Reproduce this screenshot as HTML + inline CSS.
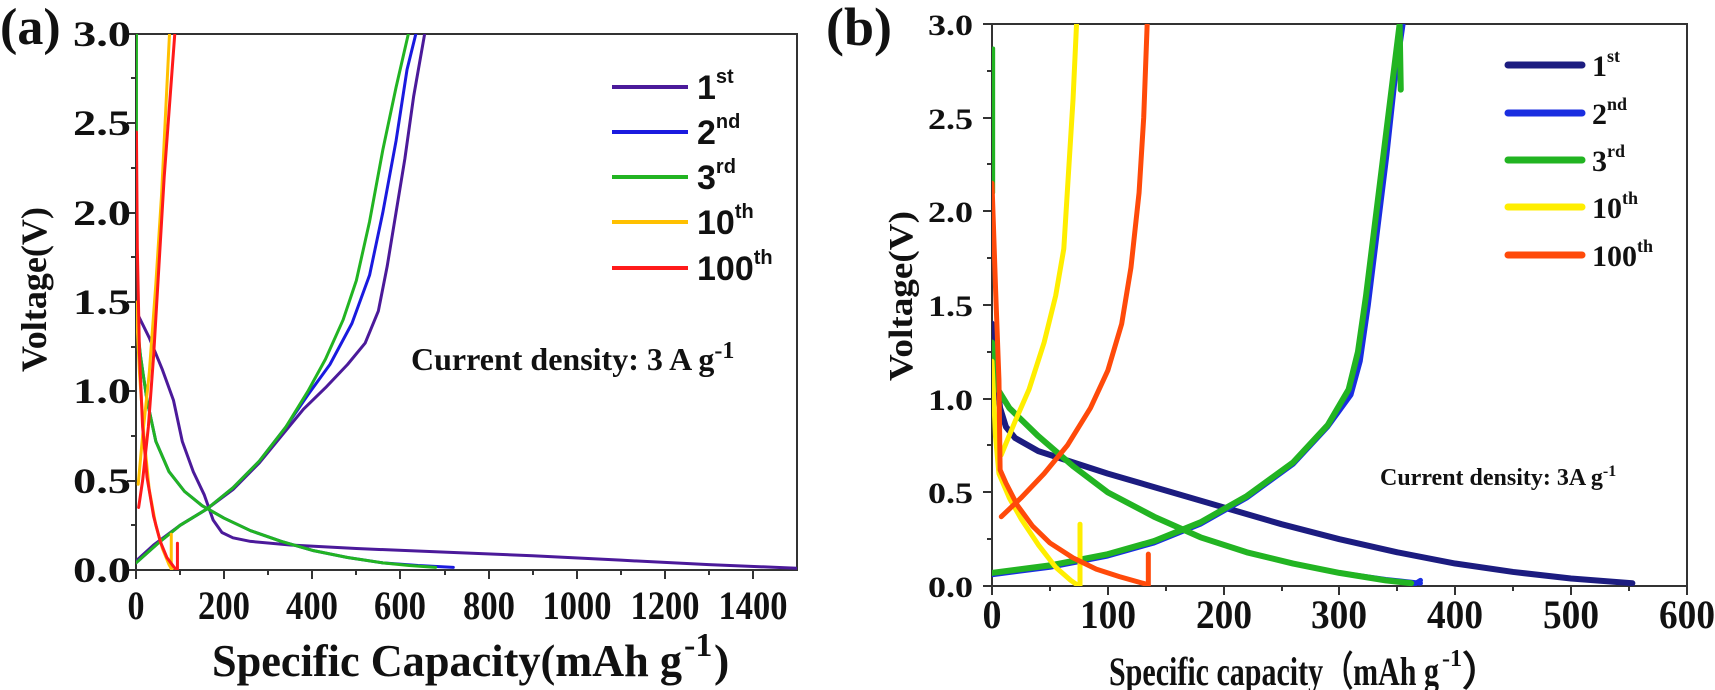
<!DOCTYPE html>
<html><head><meta charset="utf-8"><style>
html,body{margin:0;padding:0;background:#fff;}
svg{display:block;}
.s{font-family:"Liberation Serif",serif;font-weight:bold;fill:#111;}
.a{font-family:"Liberation Sans",sans-serif;font-weight:bold;fill:#111;}
path.c{fill:none;stroke-linejoin:round;stroke-linecap:round;vector-effect:non-scaling-stroke;}
</style></head><body>
<svg width="1715" height="690" viewBox="0 0 1715 690" xmlns="http://www.w3.org/2000/svg">
<!-- ========== Panel A ========== -->
<text class="s" x="0" y="44" font-size="52">(a)</text>
<rect x="136" y="34" width="661" height="536" fill="none" stroke="#333" stroke-width="2"/>
<g stroke="#333" stroke-width="2">
<path d="M136 570v9M224 570v9M312 570v9M400 570v9M489 570v9M577 570v9M665 570v9M753 570v9M180 570v5M268 570v5M356 570v5M445 570v5M533 570v5M621 570v5M709 570v5"/>
<path d="M136 34h-9M136 123h-9M136 213h-9M136 302h-9M136 391h-9M136 481h-9M136 570h-9M136 78h-5M136 168h-5M136 257h-5M136 347h-5M136 436h-5M136 525h-5"/>
</g>
<g class="s" font-size="36" text-anchor="end">
<text x="131" y="46" textLength="58" lengthAdjust="spacingAndGlyphs">3.0</text>
<text x="131" y="135" textLength="58" lengthAdjust="spacingAndGlyphs">2.5</text>
<text x="131" y="225" textLength="58" lengthAdjust="spacingAndGlyphs">2.0</text>
<text x="131" y="314" textLength="58" lengthAdjust="spacingAndGlyphs">1.5</text>
<text x="131" y="403" textLength="58" lengthAdjust="spacingAndGlyphs">1.0</text>
<text x="131" y="493" textLength="58" lengthAdjust="spacingAndGlyphs">0.5</text>
<text x="131" y="582" textLength="58" lengthAdjust="spacingAndGlyphs">0.0</text>
</g>
<g class="s" font-size="40" text-anchor="middle">
<text x="136" y="619" textLength="17" lengthAdjust="spacingAndGlyphs">0</text>
<text x="224" y="619" textLength="52" lengthAdjust="spacingAndGlyphs">200</text>
<text x="312" y="619" textLength="52" lengthAdjust="spacingAndGlyphs">400</text>
<text x="400" y="619" textLength="52" lengthAdjust="spacingAndGlyphs">600</text>
<text x="489" y="619" textLength="52" lengthAdjust="spacingAndGlyphs">800</text>
<text x="577" y="619" textLength="69" lengthAdjust="spacingAndGlyphs">1000</text>
<text x="665" y="619" textLength="69" lengthAdjust="spacingAndGlyphs">1200</text>
<text x="753" y="619" textLength="69" lengthAdjust="spacingAndGlyphs">1400</text>
</g>
<text class="s" x="212" y="676" font-size="46" textLength="470" lengthAdjust="spacingAndGlyphs">Specific Capacity(mAh g</text>
<text class="s" x="684" y="656" font-size="34">-1</text>
<text class="s" x="714" y="676" font-size="46">)</text>
<text class="s" transform="translate(46,372) rotate(-90)" font-size="36" textLength="165" lengthAdjust="spacingAndGlyphs">Voltage(V)</text>
<text class="s" x="411" y="370" font-size="32">Current density: 3 A g<tspan font-size="24" dy="-12">-1</tspan></text>
<!-- legend a -->
<g stroke-width="4">
<line x1="612" y1="87" x2="688" y2="87" stroke="#4b1a9a"/>
<line x1="612" y1="132" x2="688" y2="132" stroke="#1a1adf"/>
<line x1="612" y1="177" x2="688" y2="177" stroke="#22b422"/>
<line x1="612" y1="222" x2="688" y2="222" stroke="#ffc000"/>
<line x1="612" y1="268" x2="688" y2="268" stroke="#ff1a1a"/>
</g>
<g class="a" font-size="34">
<text x="697" y="99">1<tspan font-size="20" dy="-16">st</tspan></text>
<text x="697" y="144">2<tspan font-size="20" dy="-16">nd</tspan></text>
<text x="697" y="189">3<tspan font-size="20" dy="-16">rd</tspan></text>
<text x="697" y="234">10<tspan font-size="20" dy="-16">th</tspan></text>
<text x="697" y="280">100<tspan font-size="20" dy="-16">th</tspan></text>
</g>
<svg x="136" y="34" width="661" height="536" overflow="hidden">
<g transform="translate(0,536) scale(0.4407,-178.7)">
<path class="c" stroke="#22b422" stroke-width="3" d="M1 3.0L1 2.4"/>
<path class="c" stroke="#4b1a9a" stroke-width="3" d="M0 1.45L30 1.3L60 1.12L85 0.95L105 0.72L130 0.55L155 0.42L175 0.28L195 0.21L220 0.18L260 0.16L350 0.14L500 0.12L700 0.1L900 0.08L1100 0.055L1300 0.03L1500 0.01"/>
<path class="c" stroke="#4b1a9a" stroke-width="3" d="M0 0.05L40 0.14L100 0.25L160 0.34L220 0.45L280 0.6L330 0.75L380 0.9L430 1.02L480 1.15L520 1.27L550 1.45L570 1.7L590 2.0L610 2.3L630 2.65L655 3.0"/>
<path class="c" stroke="#1a1adf" stroke-width="3" d="M0 1.4L10 1.2L25 0.95L45 0.72L75 0.55L110 0.44L150 0.36L200 0.29L260 0.22L330 0.16L400 0.11L480 0.07L560 0.04L640 0.025L720 0.015"/>
<path class="c" stroke="#1a1adf" stroke-width="3" d="M0 0.04L50 0.15L100 0.25L160 0.34L220 0.46L280 0.61L340 0.8L390 0.98L440 1.15L490 1.38L530 1.65L560 2.0L590 2.4L615 2.8L635 3.0"/>
<path class="c" stroke="#22b422" stroke-width="3" d="M0 1.45L10 1.2L25 0.95L45 0.72L75 0.55L110 0.44L150 0.36L200 0.29L260 0.22L330 0.16L400 0.11L480 0.07L560 0.04L620 0.025L680 0.015"/>
<path class="c" stroke="#22b422" stroke-width="3" d="M0 0.04L50 0.15L100 0.25L160 0.34L220 0.46L280 0.61L340 0.8L390 1.0L430 1.18L470 1.4L500 1.62L530 1.95L560 2.35L590 2.7L618 3.0"/>
<path class="c" stroke="#ffc000" stroke-width="3" d="M0 1.5L8 1.1L18 0.75L30 0.45L45 0.25L60 0.12L75 0.03L82 0"/>
<path class="c" stroke="#ffc000" stroke-width="3" d="M5 0.48L15 0.75L30 1.1L45 1.6L58 2.1L68 2.6L76 3.0M80 0L80 0.2"/>
<path class="c" stroke="#ff1a1a" stroke-width="3" d="M1 2.45L3 1.8L8 1.2L15 0.8L25 0.52L40 0.3L55 0.16L70 0.07L85 0.02L92 0"/>
<path class="c" stroke="#ff1a1a" stroke-width="3" d="M6 0.35L15 0.5L28 0.8L40 1.2L52 1.7L64 2.2L76 2.6L88 3.0M94 0L94 0.15"/>
</g></svg>

<!-- ========== Panel B ========== -->
<text class="s" x="826" y="45" font-size="54">(b)</text>
<rect x="992" y="24" width="695" height="562" fill="none" stroke="#333" stroke-width="2"/>
<g stroke="#333" stroke-width="2">
<path d="M992 586v9M1108 586v9M1224 586v9M1339 586v9M1455 586v9M1571 586v9M1687 586v9M1050 586v5M1166 586v5M1282 586v5M1397 586v5M1513 586v5M1629 586v5"/>
<path d="M992 24h-9M992 118h-9M992 211h-9M992 305h-9M992 399h-9M992 492h-9M992 586h-9M992 71h-5M992 164h-5M992 258h-5M992 352h-5M992 445h-5M992 539h-5"/>
</g>
<g class="s" font-size="30" text-anchor="end">
<text x="973" y="35" textLength="45" lengthAdjust="spacingAndGlyphs">3.0</text>
<text x="973" y="129" textLength="45" lengthAdjust="spacingAndGlyphs">2.5</text>
<text x="973" y="222" textLength="45" lengthAdjust="spacingAndGlyphs">2.0</text>
<text x="973" y="316" textLength="45" lengthAdjust="spacingAndGlyphs">1.5</text>
<text x="973" y="410" textLength="45" lengthAdjust="spacingAndGlyphs">1.0</text>
<text x="973" y="503" textLength="45" lengthAdjust="spacingAndGlyphs">0.5</text>
<text x="973" y="597" textLength="45" lengthAdjust="spacingAndGlyphs">0.0</text>
</g>
<g class="s" font-size="40" text-anchor="middle">
<text x="992" y="628" textLength="19" lengthAdjust="spacingAndGlyphs">0</text>
<text x="1108" y="628" textLength="56" lengthAdjust="spacingAndGlyphs">100</text>
<text x="1224" y="628" textLength="56" lengthAdjust="spacingAndGlyphs">200</text>
<text x="1339" y="628" textLength="56" lengthAdjust="spacingAndGlyphs">300</text>
<text x="1455" y="628" textLength="56" lengthAdjust="spacingAndGlyphs">400</text>
<text x="1571" y="628" textLength="56" lengthAdjust="spacingAndGlyphs">500</text>
<text x="1687" y="628" textLength="56" lengthAdjust="spacingAndGlyphs">600</text>
</g>
<text class="s" x="1109" y="685" font-size="40" textLength="330" lengthAdjust="spacingAndGlyphs">Specific capacity（mAh g</text>
<text class="s" x="1442" y="666" font-size="24">-1</text>
<text class="s" x="1462" y="685" font-size="40" textLength="40" lengthAdjust="spacingAndGlyphs">）</text>
<text class="s" transform="translate(912,381) rotate(-90)" font-size="34" textLength="170" lengthAdjust="spacingAndGlyphs">Voltage(V)</text>
<text class="s" x="1380" y="485" font-size="24">Current density: 3A g<tspan font-size="16" dy="-9">-1</tspan></text>
<!-- legend b -->
<g stroke-width="7" stroke-linecap="round">
<line x1="1508" y1="65" x2="1582" y2="65" stroke="#1c1c80"/>
<line x1="1508" y1="113" x2="1582" y2="113" stroke="#1a2ee0"/>
<line x1="1508" y1="160" x2="1582" y2="160" stroke="#22b422"/>
<line x1="1508" y1="207" x2="1582" y2="207" stroke="#ffee00"/>
<line x1="1508" y1="255" x2="1582" y2="255" stroke="#ff4a0a"/>
</g>
<g class="s" font-size="30">
<text x="1592" y="76">1<tspan font-size="18" dy="-14">st</tspan></text>
<text x="1592" y="124">2<tspan font-size="18" dy="-14">nd</tspan></text>
<text x="1592" y="171">3<tspan font-size="18" dy="-14">rd</tspan></text>
<text x="1592" y="218">10<tspan font-size="18" dy="-14">th</tspan></text>
<text x="1592" y="266">100<tspan font-size="18" dy="-14">th</tspan></text>
</g>
<svg x="992" y="24" width="695" height="562" overflow="hidden">
<g transform="translate(0,562) scale(1.158,-187.3)">
<path class="c" stroke="#22b422" stroke-width="4" d="M1 2.87L1 2.1"/>
<path class="c" stroke="#1c1c80" stroke-width="6" d="M0 1.4L3 1.15L7 0.95L12 0.85L20 0.79L40 0.72L70 0.66L100 0.6L150 0.51L200 0.42L250 0.33L300 0.25L350 0.18L400 0.12L450 0.075L500 0.04L553 0.015"/>
<path class="c" stroke="#1a2ee0" stroke-width="5" d="M0 0.06L50 0.1L100 0.16L140 0.23L180 0.33L220 0.47L260 0.65L290 0.85L310 1.02L318 1.2L325 1.5L333 1.9L341 2.3L348 2.7L355 3.0M365 0.01L370 0.03"/>
<path class="c" stroke="#1a2ee0" stroke-width="5" d="M0 1.3L5 1.05L15 0.95L40 0.8L70 0.64L100 0.5L140 0.37L180 0.26L220 0.18L260 0.12L300 0.07L340 0.035L370 0.015"/>
<path class="c" stroke="#22b422" stroke-width="6" d="M0 1.3L5 1.05L15 0.95L40 0.8L70 0.64L100 0.5L140 0.37L180 0.26L220 0.18L260 0.12L300 0.07L340 0.03L362 0.015"/>
<path class="c" stroke="#22b422" stroke-width="6" d="M0 0.07L50 0.11L100 0.17L140 0.24L180 0.34L220 0.48L260 0.66L290 0.86L308 1.05L316 1.25L323 1.55L331 1.95L339 2.35L346 2.7L352 3.0L353 2.65"/>
<path class="c" stroke="#ffee00" stroke-width="5" d="M0 1.2L3 0.8L6 0.6L15 0.47L25 0.36L40 0.22L55 0.1L68 0.03L75 0M76 0L76 0.33"/>
<path class="c" stroke="#ffee00" stroke-width="5" d="M8 0.7L20 0.88L32 1.05L45 1.3L55 1.55L62 1.8L66 2.2L70 2.6L73 3.0"/>
<path class="c" stroke="#ff4a0a" stroke-width="5" d="M0 2.15L3 1.6L6 1.1L7 0.62L12 0.55L22 0.43L35 0.32L50 0.23L70 0.15L90 0.09L110 0.05L133 0.01M135 0L135 0.17"/>
<path class="c" stroke="#ff4a0a" stroke-width="5" d="M8 0.37L25 0.47L45 0.6L65 0.75L85 0.95L100 1.15L112 1.4L120 1.7L127 2.1L131 2.5L134 3.0"/>
</g></svg>
</svg>
</body></html>
